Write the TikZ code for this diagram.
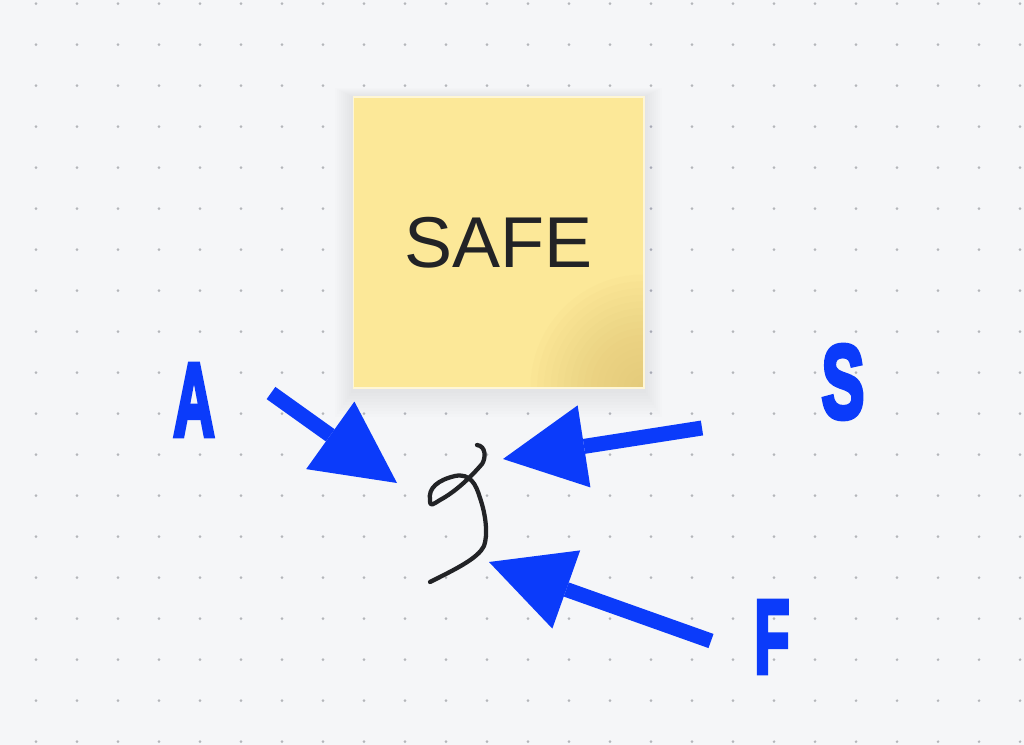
\documentclass[tikz,border=0pt]{standalone}
\usepackage{fontspec}
\setmainfont{Liberation Sans}
\newfontfamily\posterfont{Liberation Sans Bold}[FakeBold=5]
\usepackage{tikz}
\usetikzlibrary{arrows.meta}
\definecolor{boardbg}{HTML}{F5F6F8}
\definecolor{griddot}{HTML}{B4B6BA}
\definecolor{noteyellow}{HTML}{FCE898}
\definecolor{notecorner}{HTML}{DCC070}
\definecolor{markblue}{HTML}{0B3BFA}
\definecolor{inkgray}{HTML}{222326}

\begin{document}
\begin{tikzpicture}[x=0.75pt, y=-0.75pt,
	note/.style={fill=noteyellow, draw=white!60!noteyellow, line width=1pt, minimum width=218pt, minimum height=218pt, inner sep=0pt,
		font=\fontsize{54pt}{58pt}\selectfont, text=inkgray,
		path picture={\foreach \r in {5,10,...,85}
			\fill[notecorner, opacity=0.055] (path picture bounding box.south east) circle (\r pt);}},
	bigletter/.style={text=markblue, inner sep=0pt, xscale=0.55, font=\fontsize{78pt}{82pt}\posterfont},
	bluearrow/.style={markblue, line width=11.25pt, -{Triangle[length=61.5pt, width=62.25pt, line width=0pt]}},
	scribble/.style={inkgray, line width=3.2pt, line cap=round, line join=round}]
		\fill[boardbg] (0,0) rectangle (1024,745);
		\foreach \i in {0,...,24}
			\foreach \j in {0,...,18}
				\fill[griddot] (36+41*\i, 3.7+41*\j) circle (1.1pt);
		% soft shadow under the note
		\foreach \k in {1,...,9}
			\fill[black!60!blue, opacity=0.008] (353-2*\k, 97-1*\k) rectangle (644+2*\k, 390+3*\k);
		\node[note] (safe) at (498.5,242.5) {SAFE};
		\node[bigletter] (la) at (194,400) {A};
		\node[bigletter, xscale=1.12] (ls) at (843,382) {S};
		\node[bigletter] (lf) at (772,637) {F};
		\coordinate (tailA) at (271,393);
		\coordinate (tipA) at (397,483);
		\coordinate (tailS) at (702,428);
		\coordinate (tipS) at (503,459);
		\coordinate (tailF) at (711,641);
		\coordinate (tipF) at (489,562);
		\draw[bluearrow] (tailA) -- (tipA);
		\draw[bluearrow] (tailS) -- (tipS);
		\draw[bluearrow] (tailF) -- (tipF);
		\draw[scribble] (477,445) .. controls (486,446) and (486,458) .. (482,464)
			.. controls (470,478) and (455,492) .. (440,500)
			.. controls (432,505) and (430,507) .. (430,500)
			.. controls (428,488) and (438,480) .. (455,476)
			.. controls (470,473) and (476,484) .. (480,498)
			.. controls (486,515) and (488,535) .. (484,546)
			.. controls (478,558) and (458,568) .. (430,582);
	\end{tikzpicture}
\end{document}
